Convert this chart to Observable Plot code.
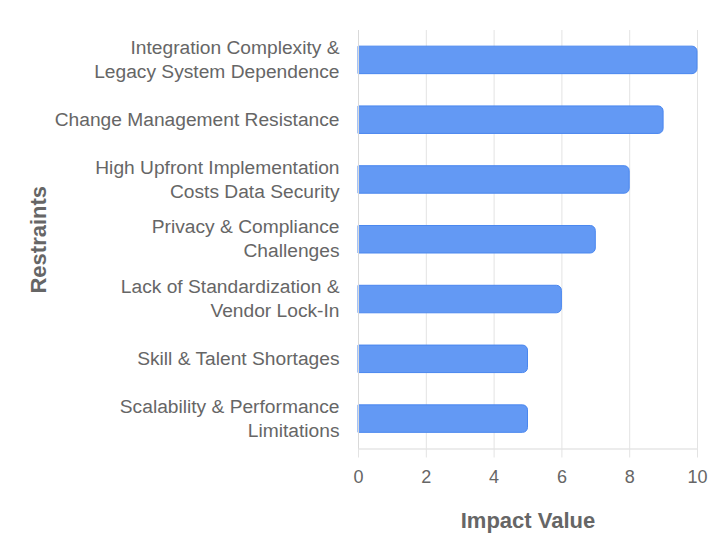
<!DOCTYPE html>
<html>
<head>
<meta charset="utf-8">
<script src="https://cdn.jsdelivr.net/npm/d3@7"></script>
<script src="https://cdn.jsdelivr.net/npm/@observablehq/plot@0.6"></script>
<style>
  html, body { margin: 0; padding: 0; background: #fff; }
  svg { font-family: "Liberation Sans", Arial, sans-serif; }
</style>
</head>
<body>
<div id="chart"></div>
<script>
const categories = [
  "Integration Complexity &\nLegacy System Dependence",
  "Change Management Resistance",
  "High Upfront Implementation\nCosts Data Security",
  "Privacy & Compliance\nChallenges",
  "Lack of Standardization &\nVendor Lock-In",
  "Skill & Talent Shortages",
  "Scalability & Performance\nLimitations"
];
const values = [10, 9, 8, 7, 6, 5, 5];
const xTicks = [0, 2, 4, 6, 8, 10];
const xTitle = "Impact Value";
const yTitle = "Restraints";

const data = categories.map((c, i) => ({name: c, value: values[i]}));

const chart = Plot.plot({
  width: 715,
  height: 550,
  marginLeft: 358,
  marginRight: 18,
  marginTop: 30,
  marginBottom: 101.5,
  style: {fontFamily: "'Liberation Sans', Arial, sans-serif", background: "#fff"},
  x: {domain: [0, 10], ticks: xTicks},
  y: {domain: categories, paddingInner: 0.54, paddingOuter: 0.27, round: false},
  marks: [
    Plot.gridX(xTicks, {stroke: "#e3e3e3", strokeOpacity: 1, strokeWidth: 1}),
    Plot.barX(data, {
      x: "value", y: "name",
      fill: "#6399f4", stroke: "#4a87ef", strokeWidth: 1,
      rx2: 5
    }),
    Plot.frame({anchor: "left", stroke: "#d9d9d9"}),
    Plot.frame({anchor: "bottom", stroke: "#d9d9d9"}),
    Plot.axisX(xTicks, {
      tickSize: 9, tickPadding: 12, stroke: "#e3e3e3", fill: "#666",
      fontSize: 18, label: null
    }),
    Plot.axisY({
      tickSize: 0, tickPadding: 19, fill: "#666", fontSize: 19.2,
      lineHeight: 1.25, label: null, dy: -2
    }),
    Plot.text([xTitle], {
      frameAnchor: "bottom", dy: 72, fontSize: 22, fontWeight: "bold",
      fill: "#666", lineAnchor: "middle", textAnchor: "middle"
    }),
    Plot.text([yTitle], {
      frameAnchor: "left", dx: -320, rotate: -90, fontSize: 22, fontWeight: "bold",
      fill: "#666", lineAnchor: "middle", textAnchor: "middle"
    })
  ]
});
document.getElementById("chart").appendChild(chart);
</script>
</body>
</html>
